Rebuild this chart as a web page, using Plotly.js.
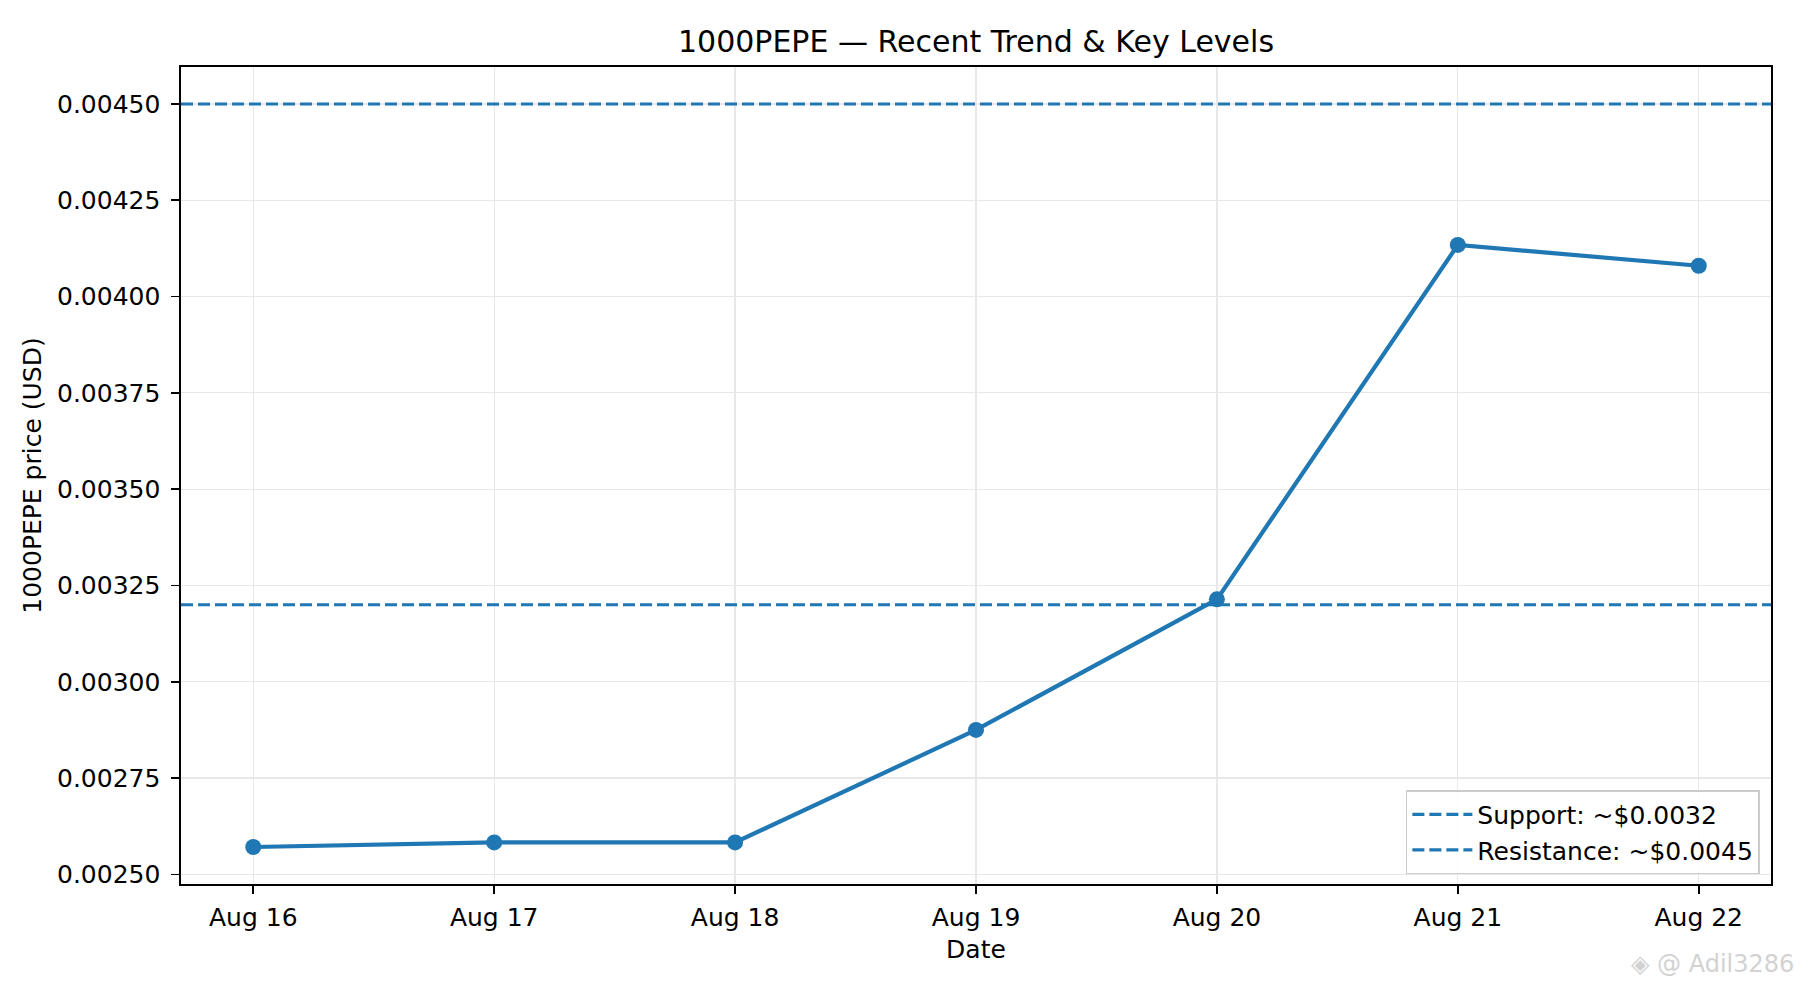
<!DOCTYPE html>
<html>
<head>
<meta charset="utf-8">
<script src="https://cdn.plot.ly/plotly-3.0.1.min.js"></script>
<style>
  html, body { margin: 0; padding: 0; background: #fff; }
  #chart { width: 1800px; height: 990px; }
</style>
</head>
<body>
<div id="chart"></div>
<script>
/* ===== data ===== */
const dates = ["2025-08-16", "2025-08-17", "2025-08-18", "2025-08-19", "2025-08-20", "2025-08-21", "2025-08-22"];
const prices = [0.002571, 0.002583, 0.002583, 0.002875, 0.003214, 0.004134, 0.004080];
const levelNames = ["Support: ~$0.0032", "Resistance: ~$0.0045"];
const levelValues = [0.0032, 0.0045];

const blue = "#1f77b4";
const font = "DejaVu Sans, Liberation Sans, sans-serif";

const priceTrace = {
  x: dates,
  y: prices,
  type: "scatter",
  mode: "lines+markers",
  line: { color: blue, width: 4.2 },
  marker: { color: blue, size: 16 },
  showlegend: false,
  hoverinfo: "x+y",
};

// key levels span the whole axes, like axhline
const levelShapes = levelValues.map((v, i) => ({
  type: "line",
  xref: "paper",
  x0: 0,
  x1: 1,
  yref: "y",
  y0: v,
  y1: v,
  line: { color: blue, width: 3.2, dash: "12px,5px" },
  showlegend: true,
  name: levelNames[i],
  layer: "above",
}));

const axisCommon = {
  showline: true,
  mirror: true,
  linecolor: "#000",
  linewidth: 1.6,
  ticks: "outside",
  ticklen: 8,
  tickwidth: 1.6,
  tickcolor: "#000",
  showgrid: true,
  gridcolor: "#e8e8e8",
  gridwidth: 1.2,
  zeroline: false,
  tickfont: { family: font, size: 25, color: "#000" },
};

const layout = {
  width: 1800,
  height: 990,
  margin: { l: 181, r: 29, t: 67, b: 106 },
  paper_bgcolor: "#fff",
  plot_bgcolor: "#fff",
  font: { family: font, color: "#000" },
  title: {
    text: "1000PEPE — Recent Trend & Key Levels",
    font: { family: font, size: 30, color: "#000" },
    xref: "paper",
    x: 0.5,
    xanchor: "center",
    y: 0.958,
    yanchor: "middle",
  },
  xaxis: Object.assign({}, axisCommon, {
    type: "date",
    range: ["2025-08-15 16:48", "2025-08-22 07:12"],
    tickvals: dates,
    tickformat: "%b %d",
    ticklabelstandoff: 2,
    title: { text: "Date", font: { family: font, size: 25, color: "#000" }, standoff: 10 },
  }),
  yaxis: Object.assign({}, axisCommon, {
    range: [0.002475, 0.004596],
    tick0: 0.0025,
    dtick: 0.00025,
    tickformat: ".5f",
    ticklabelstandoff: 6,
    title: { text: "1000PEPE price (USD)", font: { family: font, size: 25, color: "#000" }, standoff: 8 },
  }),
  shapes: levelShapes,
  legend: {
    x: 0.993,
    y: 0.012,
    xanchor: "right",
    yanchor: "bottom",
    bgcolor: "rgba(255,255,255,0.85)",
    bordercolor: "#cccccc",
    borderwidth: 1.5,
    font: { family: font, size: 25, color: "#000" },
    itemwidth: 60,
    tracegroupgap: 0,
  },
  annotations: [
    {
      text: "◈ @ Adil3286",
      xref: "paper",
      yref: "paper",
      x: 1.016,
      y: -0.078,
      xanchor: "right",
      yanchor: "top",
      showarrow: false,
      font: { family: font, size: 24, color: "#d2d2d2" },
    },
  ],
};

Plotly.newPlot("chart", [priceTrace], layout, { displayModeBar: false, staticPlot: true });
</script>
</body>
</html>
